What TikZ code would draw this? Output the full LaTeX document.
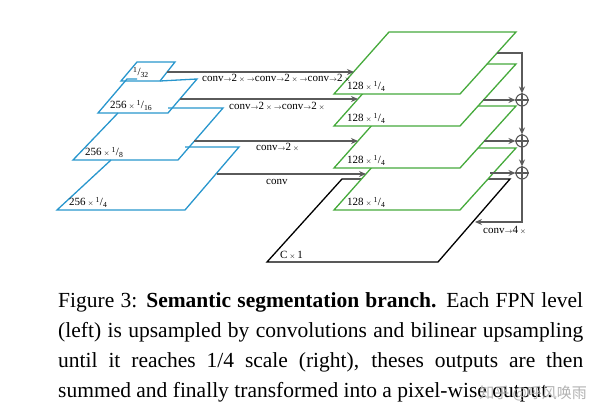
\documentclass[tikz,border=0pt]{standalone}
\usepackage{fontspec}
\setmainfont{Liberation Serif}
\newfontfamily\cjk{Noto Sans CJK SC}
\usetikzlibrary{arrows.meta}
\definecolor{fpnblue}{RGB}{40,150,205}
\definecolor{fpngreen}{RGB}{70,170,60}
\definecolor{arr}{RGB}{90,90,90}
\newcommand{\fr}[2]{\textsuperscript{#1}/\textsubscript{#2}}
\newcommand{\tm}{\,{\scriptsize$\times$}\,}
\newcommand{\ar}{{\scriptsize$\to$}}
\tikzset{x=1pt,y=-1pt,
 bl/.style={draw=fpnblue,line width=1.3pt,line join=miter},
 gr/.style={draw=fpngreen,line width=1.3pt},
 bk/.style={draw=black,line width=1.3pt},
 con/.style={draw=arr,line width=1.2pt,-{Stealth[length=7pt,width=6pt]}},
 lbl/.style={font=\fontsize{11}{12}\selectfont,inner sep=0pt,anchor=base west},
 sm/.style={draw=arr,line width=1.1pt,circle,minimum size=12pt,inner sep=0pt}}
\begin{document}
\begin{tikzpicture}
\useasboundingbox (0,0) rectangle (600,414);
% blue planes
\draw[bl] (121,81) -- (137,62) -- (175,62) -- (160,81) -- cycle;
\draw[bl] (160,81) -- (197,79) -- (168,113) -- (98,113) -- (127,79) -- (137,79);
\draw[bl] (168,108) -- (223,108) -- (178,160) -- (73,160) -- (118,113);
\draw[bl] (185,147) -- (239,147) -- (185,210) -- (57,210) -- (111,160);
\node[lbl] at (133,76) {\fr{1}{32}};
\node[lbl] at (110,109) {256\tm\fr{1}{16}};
\node[lbl] at (85,156) {256\tm\fr{1}{8}};
\node[lbl] at (69,206) {256\tm\fr{1}{4}};
% black plane
\draw[bk] (342,179) -- (510,179) -- (438,262) -- (267,262) -- cycle;
\node[lbl] at (280,259) {C\tm1};
% green planes
\foreach \t in {148,106,64,32}{
 \draw[gr,fill=white] (389,\t) -- (516,\t) -- (460,\t+62) -- (334,\t+62) -- cycle;
 \node[lbl] at (347,\t+58) {128\tm\fr{1}{4}};
}
% coordinates
\coordinate (a1s) at (167,72); \coordinate (a1e) at (354,72);
\coordinate (a2s) at (180,99); \coordinate (a2e) at (358,99);
\coordinate (a3s) at (194,141); \coordinate (a3e) at (358,141);
\coordinate (a4s) at (217,174); \coordinate (a4e) at (366,174);
\draw[con] (a1s) -- (a1e);
\draw[con] (a2s) -- (a2e);
\draw[con] (a3s) -- (a3e);
\draw[con] (a4s) -- (a4e);
\node[lbl] at (202,82) {conv\ar2\tm\ar conv\ar2\tm\ar conv\ar2\tm};
\node[lbl] at (229,110) {conv\ar2\tm\ar conv\ar2\tm};
\node[lbl] at (256,151) {conv\ar2\tm};
\node[lbl] at (266,185) {conv};
% sums
\node[sm] (s1) at (522,100) {};
\node[sm] (s2) at (522,141) {};
\node[sm] (s3) at (522,173) {};
\foreach \s in {s1,s2,s3}{\draw[arr,line width=1.1pt] (\s.north)--(\s.south) (\s.west)--(\s.east);}
\coordinate (g1o) at (497,53);
\coordinate (g2o) at (483,100);
\coordinate (g3o) at (484,141);
\coordinate (g4o) at (490,173);
\coordinate (bend) at (522,222);
\coordinate (out) at (475,222);
\draw[con] (g1o) -| (s1);
\draw[con] (g2o) -- (s1);
\draw[con] (g3o) -- (s2);
\draw[con] (g4o) -- (s3);
\draw[con] (s1) -- (s2);
\draw[con] (s2) -- (s3);
\draw[con] (s3) -- (bend) -- (out);
\node[lbl] at (483,234) {conv\ar4\tm};
% caption
\node[anchor=north west,inner sep=0pt,text width=525pt,align=justify,font=\fontsize{21.5}{30}\selectfont] (cap) at (58,292)
{Figure 3: \textbf{Semantic segmentation branch.} Each FPN level (left) is upsampled by convolutions and bilinear upsampling until it reaches 1/4 scale (right), theses outputs are then summed and finally transformed into a pixel-wise output.};
\node[anchor=east,inner sep=0pt,text=gray!60,font=\cjk\fontsize{15}{16}\selectfont] (wm) at (587,393) {知乎 @呼风唤雨};
\end{tikzpicture}
\end{document}
